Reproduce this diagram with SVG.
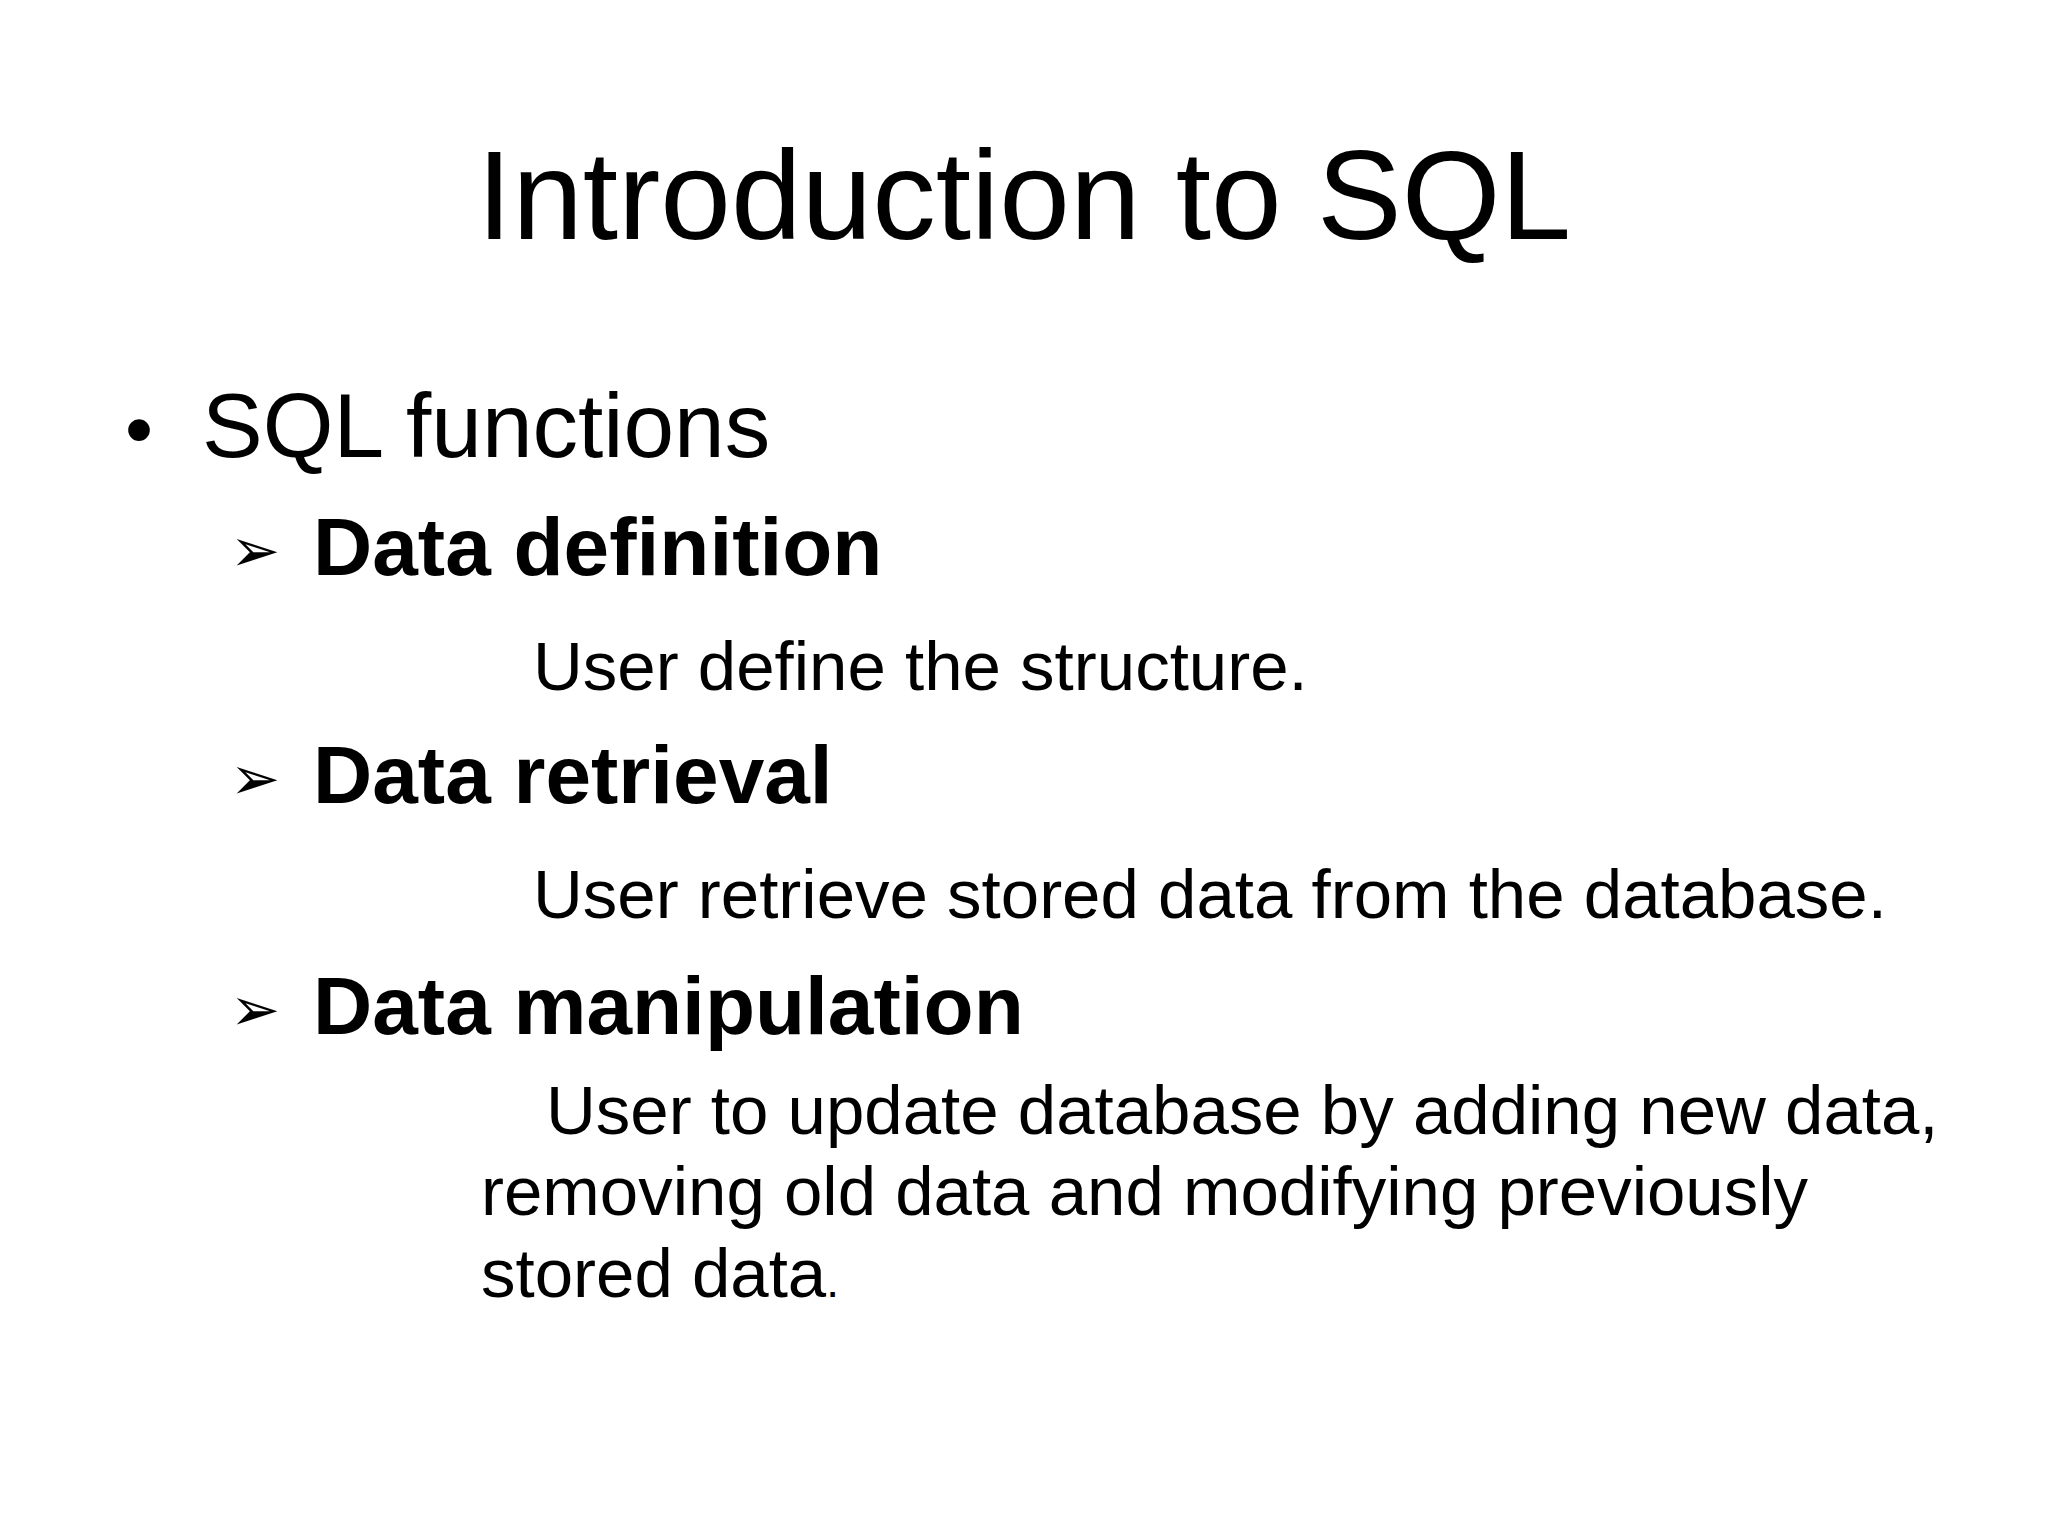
<svg xmlns="http://www.w3.org/2000/svg" width="2048" height="1536" viewBox="0 0 2048 1536">
<style>
text{font-family:"Liberation Sans",Arial,sans-serif;fill:#000}
.h{font-size:82px;font-weight:bold}
.b{font-size:69px}
.ar{font-family:"DejaVu Sans",sans-serif;font-size:60px}
</style>
<rect width="2048" height="1536" fill="#fff"/>
<g id="title"><text x="1024" y="239" font-size="127" text-anchor="middle">Introduction to SQL</text></g>
<g id="l1"><text x="125" y="457" font-size="80">•</text><text x="202" y="457" font-size="91">SQL functions</text></g>
<g id="dd"><text class="ar" x="230" y="571">➢</text><text class="h" x="313" y="575">Data definition</text>
<text class="b" x="533" y="690">User define the structure.</text></g>
<g id="dr"><text class="ar" x="230" y="799">➢</text><text class="h" x="313" y="803">Data retrieval</text>
<text class="b" x="533" y="918">User retrieve stored data from the database.</text></g>
<g id="dm"><text class="ar" x="230" y="1030">➢</text><text class="h" x="313" y="1034">Data manipulation</text>
<text class="b" x="546" y="1134">User to update database by adding new data,</text>
<text class="b" x="481" y="1215">removing old data and modifying previously</text>
<text class="b" x="481" y="1297">stored data<tspan font-size="46">.</tspan></text></g>
</svg>
